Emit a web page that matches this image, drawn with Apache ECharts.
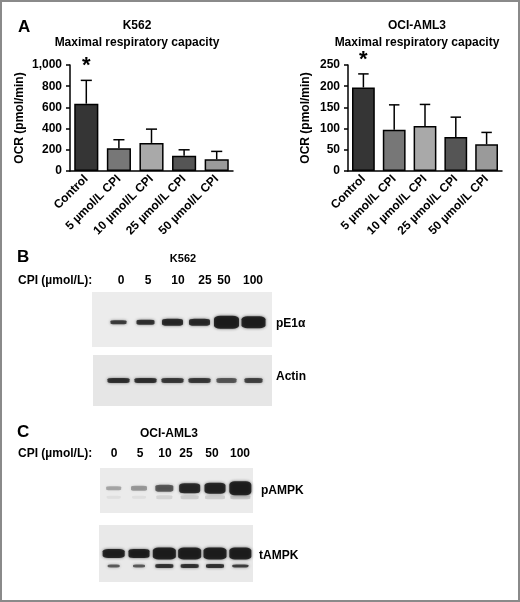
<!DOCTYPE html><html><head><meta charset="utf-8">
<script src="https://cdn.jsdelivr.net/npm/echarts@6/dist/echarts.min.js"></script>
<style>html,body{margin:0;padding:0;background:#fff}#c{width:520px;height:602px}</style></head><body><div id="c"></div>
<script>
const categories=['Control','5 µmol/L CPI','10 µmol/L CPI','25 µmol/L CPI','50 µmol/L CPI'];
const barColors=['#353535','#777777','#a9a9a9','#555555','#9a9a9a'];
const k562Mean=[635,215,265,145,110];
const k562Err=[220,80,130,55,75];
const ociMean=[197,97,106,80,63];
const ociErr=[32,59,51,47,28];
const lanes=['0','5','10','25','50','100'];
// band [width, height, darkness]
const pE1a=[[16,4,0.85],[18,5,0.9],[21,7,0.95],[21,7,0.95],[25,13,1],[24,12,1]];
const actin=[[22,5,0.9],[22,5,0.9],[22,5,0.85],[22,5,0.85],[20,5,0.7],[18,5,0.8]];
const pAMPK=[[15,4,0.35],[16,5,0.4],[18,7,0.7],[21,10,0.95],[21,11,0.97],[22,14,1]];
const pAMPKlow=[[14,3,0.07],[14,3,0.07],[16,4,0.12],[18,4,0.15],[20,4,0.15],[20,4,0.18]];
const tAMPK=[[22,9,1],[21,9,1],[23,12,1],[23,12,1],[23,12,1],[22,12,1]];
const tAMPKlow=[[12,3,0.7],[12,3,0.7],[18,4,0.9],[18,4,0.9],[18,4,0.9],[16,3,0.85]];

const F='Liberation Sans, Arial, sans-serif';
const chart=echarts.init(document.getElementById('c'));
const grids=[],xA=[],yA=[],series=[];
function barChart(left,right,max,interval,mean,err,yfmt){
  const i=grids.length;
  grids.push({left:left,right:right,top:65,bottom:431});
  xA.push({type:'category',gridIndex:i,data:categories,axisTick:{show:false},
    axisLine:{lineStyle:{color:'#000',width:1.5}},
    axisLabel:{rotate:45,interval:0,color:'#000',fontWeight:'bold',fontSize:12,fontFamily:F,margin:6}});
  yA.push({type:'value',gridIndex:i,min:0,max:max,interval:interval,splitLine:{show:false},
    name:'OCR (pmol/min)',nameLocation:'middle',nameGap:left>200?36:44,nameRotate:90,
    nameTextStyle:{color:'#000',fontWeight:'bold',fontSize:12,fontFamily:F},
    axisLine:{show:true,lineStyle:{color:'#000',width:1.5}},axisTick:{show:true,length:4,lineStyle:{color:'#000',width:1.5}},
    axisLabel:{color:'#000',fontWeight:'bold',fontSize:12,fontFamily:F,formatter:yfmt}});
  series.push({type:'bar',xAxisIndex:i,yAxisIndex:i,barCategoryGap:'26%',
    data:mean.map((v,k)=>({value:v,itemStyle:{color:barColors[k]}})),
    itemStyle:{borderColor:'#000',borderWidth:1.5},z:2});
  series.push({type:'custom',xAxisIndex:i,yAxisIndex:i,z:3,
    data:mean.map((v,k)=>[k,v,v+err[k]]),
    renderItem:(p,api)=>{const a=api.coord([api.value(0),api.value(1)]),b=api.coord([api.value(0),api.value(2)]);
      const w=api.size([1,0])[0]*0.17;
      const ch=[{type:'line',shape:{x1:a[0],y1:a[1],x2:b[0],y2:b[1]},style:{stroke:'#000',lineWidth:1.5}},
        {type:'line',shape:{x1:a[0]-w,y1:b[1],x2:a[0]+w,y2:b[1]},style:{stroke:'#000',lineWidth:1.5}}];
      if(api.value(0)===0)ch.push({type:'text',style:{text:'*',x:b[0],y:b[1]-3,align:'center',verticalAlign:'bottom',font:'bold 22px '+F,fill:'#000'}});
      return {type:'group',children:ch};}});
}
barChart(70,287,1000,200,k562Mean,k562Err,v=>v===1000?'1,000':v);
barChart(348,18,250,50,ociMean,ociErr,v=>v);

function blot(left,width,top,height,bands,yPos){
  const i=grids.length;
  grids.push({left:left,width:width,top:top,height:height});
  xA.push({type:'category',gridIndex:i,data:lanes,show:false});
  yA.push({type:'value',gridIndex:i,min:0,max:1,show:false});
  series.push({type:'scatter',xAxisIndex:i,yAxisIndex:i,symbol:'roundRect',silent:true,
    data:bands.map((b,k)=>({value:[k,yPos],symbolSize:[b[0],b[1]],
      itemStyle:{color:'rgba(10,10,10,'+b[2]+')',shadowBlur:3,shadowColor:'rgba(20,20,20,'+(b[2]*0.8)+')'}}))});
}
blot(105,162,292,55,pE1a,0.45);
blot(105,162,355,51,actin,0.5);
blot(101,152,468,45,pAMPK,0.55);
blot(101,152,468,45,pAMPKlow,0.35);
blot(101,152,525,57,tAMPK,0.5);
blot(101,152,525,57,tAMPKlow,0.28);

function txt(x,y,t,size,extra){return Object.assign({type:'text',x:x,y:y,style:{text:t,font:'bold '+size+'px '+F,fill:'#000',textVerticalAlign:'middle'}},extra||{});}
function ctr(x,y,t,size){return {type:'text',x:x,y:y,style:{text:t,font:'bold '+size+'px '+F,fill:'#000',textAlign:'center',textVerticalAlign:'middle'}};}
const g=[
 {type:'rect',shape:{x:1,y:1,width:518,height:600},style:{fill:'none',stroke:'#8a8a8a',lineWidth:2}},
 txt(18,27,'A',17),
 ctr(137,26,'K562',12), ctr(137,43,'Maximal respiratory capacity',12),
 ctr(417,26,'OCI-AML3',12), ctr(417,43,'Maximal respiratory capacity',12),
 txt(17,257,'B',17), ctr(183,259,'K562',11),
 txt(18,281,'CPI (µmol/L):',12),
 {type:'rect',shape:{x:92,y:292,width:180,height:55},style:{fill:'#ececec'},z:-1},
 {type:'rect',shape:{x:93,y:355,width:179,height:51},style:{fill:'#e6e6e6'},z:-1},
 txt(276,324,'pE1α',12), txt(276,377,'Actin',12),
 txt(17,432,'C',17), ctr(169,434,'OCI-AML3',12),
 txt(18,454,'CPI (µmol/L):',12),
 {type:'rect',shape:{x:100,y:468,width:153,height:45},style:{fill:'#ebebeb'},z:-1},
 {type:'rect',shape:{x:99,y:525,width:154,height:57},style:{fill:'#e9e9e9'},z:-1},
 txt(261,491,'pAMPK',12), txt(259,556,'tAMPK',12)
];
const laneXB=[121,148,178,205,224,253], laneXC=[114,140,165,186,212,240];
lanes.forEach((l,k)=>{
 g.push(ctr(laneXB[k],281,l,12));
 g.push(ctr(laneXC[k],454,l,12));
});
chart.setOption({animation:false,grid:grids,xAxis:xA,yAxis:yA,series:series,graphic:g});
</script></body></html>
